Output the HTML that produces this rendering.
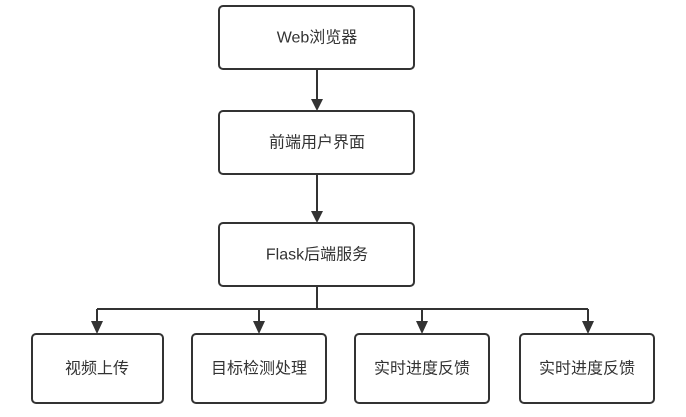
<!DOCTYPE html>
<html><head><meta charset="utf-8"><style>
body{margin:0;background:#fff;}
svg text{font-family:"Liberation Sans","Noto Sans CJK SC",sans-serif;font-size:16px;fill:#333;text-anchor:middle;dominant-baseline:central;}
</style></head><body>
<svg width="686" height="412" viewBox="0 0 686 412" xmlns="http://www.w3.org/2000/svg">
<g fill="#fff" stroke="#333" stroke-width="2">
<rect x="219" y="6" width="195" height="63" rx="4"/>
<rect x="219" y="111" width="195" height="63" rx="4"/>
<rect x="219" y="223" width="195" height="63" rx="4"/>
<rect x="32" y="334" width="131" height="69" rx="4"/>
<rect x="192" y="334" width="134" height="69" rx="4"/>
<rect x="355" y="334" width="134" height="69" rx="4"/>
<rect x="520" y="334" width="134" height="69" rx="4"/>
</g>
<g stroke="#333" stroke-width="2" fill="none">
<path d="M317 69V100M317 174V212M317 286V309M97 309H588M97 309V322M259 309V322M422 309V322M588 309V322"/>
</g>
<g fill="#333">
<path d="M311 99h12l-6 12z"/>
<path d="M311 211h12l-6 12z"/>
<path d="M91 321h12l-6 13z"/>
<path d="M253 321h12l-6 13z"/>
<path d="M416 321h12l-6 13z"/>
<path d="M582 321h12l-6 13z"/>
</g>
<text x="317" y="38">Web浏览器</text>
<text x="317" y="143">前端用户界面</text>
<text x="317" y="255">Flask后端服务</text>
<text x="97" y="369">视频上传</text>
<text x="259" y="369">目标检测处理</text>
<text x="422" y="369">实时进度反馈</text>
<text x="587" y="369">实时进度反馈</text>
</svg>
</body></html>
